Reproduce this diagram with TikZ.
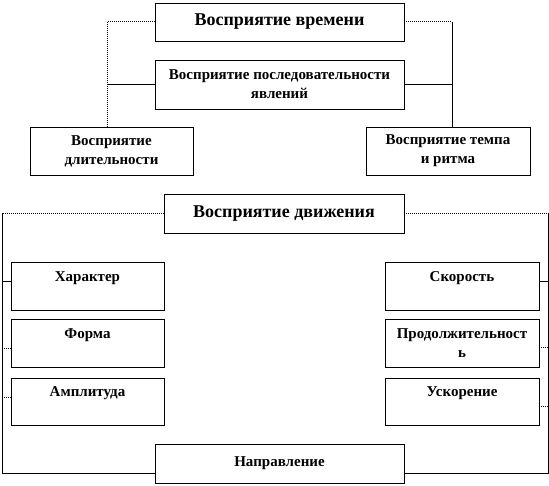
\documentclass[tikz,border=0pt]{standalone}
\usepackage{fontspec}
\setmainfont{Liberation Serif}

\begin{document}
\begin{tikzpicture}[x=1pt,y=-1pt]
\tikzset{base/.style={text=black, align=center, draw, line width=0.8pt, inner sep=0pt}, }
\tikzset{big node/.style={base, font=\fontsize{18}{22}\selectfont\bfseries}, }
\tikzset{small node/.style={base, font=\fontsize{15}{19}\selectfont\bfseries}, }
\tikzset{item node/.style={small node, minimum width=153pt, minimum height=48pt}, }
\tikzset{link/.style={line width=0.8pt}, }
\tikzset{dotlink/.style={line width=1pt, densely dotted}, }
\useasboundingbox (0,0) rectangle (549,486);

% time perception
\node[big node, minimum width=249pt, minimum height=38pt] (vremya) at (279.5,22) {Восприятие времени};
\node[small node, minimum width=249pt, minimum height=49pt] (posled) at (279.5,84.5) {Восприятие последовательности\\явлений};
\node[small node, minimum width=163pt, minimum height=48pt] (dlit) at (111.5,151) {Восприятие\\длительности};
\node[small node, minimum width=164pt, minimum height=48pt] (temp) at (448,151) {Восприятие темпа\\и ритма};

\coordinate (sl) at ([xshift=-4.5pt]dlit.north);
\coordinate (sr) at ([xshift=4pt]temp.north);
\draw[dotlink] (vremya.west) -| (sl);
\draw[dotlink] (vremya.east) -- (vremya.east -| sr);
\draw[link] (vremya.east -| sr) -- (sr);
\draw[link] (posled.west) -- (posled.west -| sl);
\draw[link] (posled.east) -- (posled.east -| sr);

% motion perception
\node[big node, minimum width=240pt, minimum height=39pt] (dvizh) at (284,213.5) {Восприятие движения};
\node[small node, minimum width=249pt, minimum height=39pt] (napr) at (279.5,463.5) {Направление};
\node[item node] (harak) at (87.5,286) {Характер\\\mbox{}};
\node[item node] (forma) at (87.5,343) {Форма\\\mbox{}};
\node[item node, minimum height=47pt] (ampl) at (87.5,401.5) {Амплитуда\\\mbox{}};
\node[item node, minimum width=154pt] (skor) at (462,286) {Скорость\\\mbox{}};
\node[item node, minimum width=154pt] (prod) at (462,343) {Продолжительност\\ь};
\node[item node, minimum width=154pt, minimum height=47pt] (uskor) at (462,401.5) {Ускорение\\\mbox{}};

\coordinate (fl) at (2,300);
\coordinate (fr) at (548,300);
\draw[dotlink] (dvizh.west) -- (dvizh.west -| fl);
\draw[dotlink] (dvizh.east) -- (dvizh.east -| fr);
\draw[link] (dvizh.west -| fl) |- ([yshift=-9.5pt]napr.west);
\draw[link] (dvizh.east -| fr) |- ([yshift=-9.5pt]napr.east);
\draw[link] ([yshift=5pt]harak.west) -- ([yshift=5pt]harak.west -| fl);
\draw[dotlink] ([yshift=-6pt]forma.west) -- ([yshift=-6pt]forma.west -| fl);
\draw[dotlink] ([yshift=4.5pt]ampl.west) -- ([yshift=4.5pt]ampl.west -| fl);
\draw[link] ([yshift=5pt]skor.east) -- ([yshift=5pt]skor.east -| fr);
\draw[dotlink] ([yshift=-5pt]prod.east) -- ([yshift=-5pt]prod.east -| fr);
\draw[dotlink] ([yshift=-4.5pt]uskor.east) -- ([yshift=-4.5pt]uskor.east -| fr);
\end{tikzpicture}
\end{document}
